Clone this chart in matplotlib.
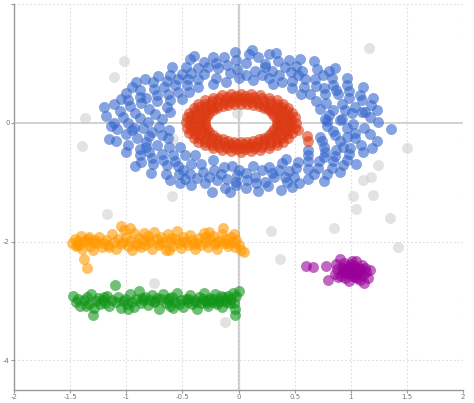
import numpy as np
import matplotlib.pyplot as plt

# outer ring
blue_pts = [
    (0.79, 0.03), (1.02, -0.02), (1.24, 0.01), (0.90, 0.05),
    (0.92, 0.07), (1.17, 0.10), (0.77, 0.06),
    (1.01, 0.17), (1.23, 0.21), (0.81, 0.13), (1.10, 0.18),
    (0.84, 0.21), (1.04, 0.26), (1.18, 0.30),
    (0.92, 0.31), (1.10, 0.38), (0.73, 0.24), (1.20, 0.41),
    (0.78, 0.33), (0.98, 0.42), (1.08, 0.47),
    (0.89, 0.48), (1.11, 0.60), (0.69, 0.36), (0.98, 0.53),
    (0.77, 0.49), (0.97, 0.63), (0.87, 0.56),
    (0.64, 0.48), (0.84, 0.64), (0.97, 0.76), (0.76, 0.58),
    (0.69, 0.62), (0.83, 0.76), (0.56, 0.49),
    (0.68, 0.73), (0.81, 0.88), (0.58, 0.61), (0.75, 0.80),
    (0.59, 0.74), (0.70, 0.90), (0.48, 0.59),
    (0.57, 0.87), (0.48, 0.71), (0.67, 1.04), (0.53, 0.80),
    (0.39, 0.68), (0.51, 0.95), (0.47, 0.86),
    (0.45, 1.05), (0.36, 0.80), (0.41, 0.94), (0.31, 0.66),
    (0.30, 0.87), (0.35, 1.04), (0.27, 0.75),
    (0.24, 0.99), (0.21, 0.81), (0.27, 1.16), (0.24, 0.94),
    (0.15, 0.88), (0.17, 1.10), (0.13, 0.72),
    (0.07, 1.00), (0.07, 0.80), (0.09, 1.15),
    (-0.01, 0.90), (-0.02, 1.05), (0.00, 0.75), (-0.03, 1.20),
    (-0.08, 0.84), (-0.13, 1.10), (-0.10, 0.97),
    (-0.18, 0.92), (-0.11, 0.68), (-0.23, 1.11), (-0.20, 1.01),
    (-0.20, 0.75), (-0.27, 0.94), (-0.31, 1.03),
    (-0.31, 0.82), (-0.43, 1.07), (-0.23, 0.65), (-0.36, 0.92),
    (-0.36, 0.74), (-0.47, 0.94), (-0.42, 0.84),
    (-0.50, 0.82), (-0.36, 0.61), (-0.59, 0.94), (-0.45, 0.74),
    (-0.46, 0.63), (-0.61, 0.80), (-0.54, 0.73),
    (-0.57, 0.64), (-0.72, 0.79), (-0.44, 0.51), (-0.64, 0.71),
    (-0.54, 0.51), (-0.76, 0.69), (-0.66, 0.61),
    (-0.75, 0.57), (-0.63, 0.49), (-0.91, 0.69), (-0.50, 0.40),
    (-0.73, 0.46), (-0.88, 0.55), (-0.61, 0.39),
    (-0.88, 0.44), (-0.73, 0.37), (-1.00, 0.50), (-0.82, 0.41),
    (-0.64, 0.26), (-0.87, 0.34), (-0.98, 0.38),
    (-0.80, 0.23), (-0.97, 0.28), (-0.61, 0.18), (-1.11, 0.32),
    (-0.74, 0.14), (-0.92, 0.17), (-1.06, 0.20),
    (-0.88, 0.08), (-1.03, 0.10), (-0.68, 0.07), (-1.18, 0.11),
    (-0.81, 0.02), (-0.98, -0.01), (-1.11, 0.00),
    (-0.71, -0.07), (-0.93, -0.09), (-1.08, -0.10), (-0.85, -0.08),
    (-0.77, -0.15), (-1.00, -0.19), (-0.62, -0.12),
    (-0.90, -0.26), (-0.80, -0.23), (-1.09, -0.31), (-0.68, -0.20),
    (-0.82, -0.32), (-0.98, -0.38), (-0.63, -0.25),
    (-0.73, -0.37), (-0.88, -0.44), (-1.00, -0.50), (-0.82, -0.41),
    (-0.62, -0.40), (-0.80, -0.50), (-0.88, -0.55),
    (-0.68, -0.53), (-0.52, -0.41), (-0.87, -0.66), (-0.77, -0.59),
    (-0.58, -0.55), (-0.76, -0.69), (-0.67, -0.62),
    (-0.48, -0.55), (-0.64, -0.71), (-0.78, -0.85), (-0.57, -0.64),
    (-0.54, -0.73), (-0.65, -0.86), (-0.39, -0.55),
    (-0.42, -0.70), (-0.53, -0.86), (-0.61, -0.97), (-0.49, -0.80),
    (-0.33, -0.69), (-0.43, -0.87), (-0.48, -0.95),
    (-0.32, -0.83), (-0.23, -0.63), (-0.42, -1.04), (-0.37, -0.93),
    (-0.22, -0.80), (-0.30, -1.02), (-0.26, -0.91),
    (-0.13, -0.75), (-0.19, -0.97), (-0.24, -1.16), (-0.16, -0.87),
    (-0.10, -0.94), (-0.12, -1.10), (-0.06, -0.73),
    (-0.01, -0.88), (-0.02, -1.05), (-0.02, -0.99), (0.00, -0.80),
    (0.07, -0.85), (0.07, -1.10), (0.08, -0.96),
    (0.15, -0.92), (0.13, -0.72), (0.17, -1.15), (0.16, -1.02),
    (0.21, -0.79), (0.24, -0.99), (0.26, -1.06),
    (0.32, -0.92), (0.27, -0.75), (0.38, -1.14), (0.30, -0.85),
    (0.36, -0.80), (0.43, -0.99), (0.41, -0.92),
    (0.39, -0.68), (0.49, -0.91), (0.54, -1.01), (0.45, -0.82),
    (0.51, -0.76), (0.62, -0.95), (0.42, -0.61),
    (0.62, -0.78), (0.67, -0.86), (0.53, -0.66), (0.76, -0.98),
    (0.62, -0.65), (0.71, -0.77), (0.79, -0.86),
    (0.62, -0.55), (0.72, -0.65), (0.83, -0.76), (0.90, -0.83),
    (0.62, -0.46), (0.84, -0.64), (0.76, -0.58),
    (0.77, -0.49), (0.97, -0.63), (0.86, -0.56), (1.05, -0.69),
    (0.76, -0.40), (0.98, -0.53), (0.87, -0.46),
    (0.93, -0.40), (1.11, -0.49), (0.74, -0.31), (0.99, -0.43),
    (0.90, -0.30), (1.09, -0.37), (0.73, -0.24),
    (1.04, -0.26), (0.86, -0.21), (1.23, -0.31), (0.97, -0.24),
    (0.84, -0.14), (1.17, -0.19), (1.04, -0.17),
    (0.97, -0.08), (1.12, -0.09), (0.79, -0.06), (1.36, -0.11),
    (-1.20, 0.27), (-1.14, -0.05), (-0.95, 0.60), (-0.83, 0.73),
    (0.12, 1.22), (0.55, 1.08), (0.86, 0.93), (1.13, 0.18),
    (1.19, -0.43), (0.93, -0.71), (0.48, -1.08), (-0.08, -1.17),
    (-0.52, -1.02), (-0.92, -0.72), (-1.15, -0.27), (-1.05, 0.40),
    (-0.40, 1.13), (0.33, 1.18), (0.95, 0.22), (-0.95, -0.12),
]

# inner ring
red_pts = [
    (0.34, 0.00), (0.44, 0.01), (0.51, -0.01), (0.38, 0.03), (0.47, 0.04),
    (0.34, 0.06), (0.43, 0.07), (0.50, 0.09), (0.37, 0.09), (0.45, 0.12),
    (0.32, 0.11), (0.41, 0.14), (0.48, 0.17), (0.35, 0.15), (0.43, 0.19),
    (0.30, 0.16), (0.38, 0.21), (0.44, 0.25), (0.32, 0.21), (0.39, 0.26),
    (0.27, 0.21), (0.34, 0.27), (0.40, 0.32), (0.27, 0.25), (0.34, 0.32),
    (0.23, 0.25), (0.29, 0.32), (0.34, 0.38), (0.23, 0.29), (0.28, 0.37),
    (0.18, 0.28), (0.23, 0.36), (0.27, 0.42), (0.17, 0.33), (0.21, 0.41),
    (0.13, 0.30), (0.16, 0.39), (0.19, 0.46), (0.11, 0.35), (0.14, 0.43),
    (0.08, 0.32), (0.09, 0.41), (0.11, 0.48), (0.05, 0.36), (0.06, 0.45),
    (0.02, 0.32), (0.02, 0.42), (0.02, 0.49), (-0.01, 0.36), (-0.02, 0.45),
    (-0.04, 0.32), (-0.05, 0.41), (-0.07, 0.48), (-0.07, 0.35), (-0.10, 0.43),
    (-0.09, 0.30), (-0.12, 0.39), (-0.15, 0.46), (-0.13, 0.33), (-0.17, 0.41),
    (-0.14, 0.28), (-0.19, 0.36), (-0.23, 0.42), (-0.19, 0.29), (-0.24, 0.37),
    (-0.19, 0.25), (-0.25, 0.32), (-0.30, 0.38), (-0.24, 0.25), (-0.30, 0.32),
    (-0.23, 0.21), (-0.30, 0.27), (-0.36, 0.32), (-0.28, 0.21), (-0.35, 0.26),
    (-0.26, 0.16), (-0.34, 0.21), (-0.40, 0.25), (-0.31, 0.15), (-0.39, 0.19),
    (-0.28, 0.11), (-0.38, 0.14), (-0.44, 0.17), (-0.33, 0.09), (-0.42, 0.12),
    (-0.30, 0.06), (-0.39, 0.07), (-0.46, 0.09), (-0.34, 0.03), (-0.43, 0.04),
    (-0.30, 0.00), (-0.40, -0.01), (-0.47, 0.01), (-0.34, -0.03), (-0.43, -0.04),
    (-0.30, -0.06), (-0.39, -0.07), (-0.46, -0.09), (-0.33, -0.09), (-0.42, -0.12),
    (-0.28, -0.11), (-0.38, -0.14), (-0.44, -0.17), (-0.31, -0.15), (-0.39, -0.19),
    (-0.26, -0.16), (-0.34, -0.21), (-0.40, -0.25), (-0.28, -0.21), (-0.35, -0.26),
    (-0.23, -0.21), (-0.30, -0.27), (-0.36, -0.32), (-0.24, -0.25), (-0.30, -0.32),
    (-0.19, -0.25), (-0.25, -0.32), (-0.30, -0.38), (-0.19, -0.29), (-0.24, -0.37),
    (-0.14, -0.28), (-0.19, -0.36), (-0.23, -0.42), (-0.13, -0.33), (-0.17, -0.41),
    (-0.09, -0.30), (-0.12, -0.39), (-0.15, -0.46), (-0.07, -0.35), (-0.10, -0.43),
    (-0.04, -0.32), (-0.05, -0.41), (-0.07, -0.48), (-0.01, -0.36), (-0.02, -0.45),
    (0.02, -0.32), (0.02, -0.42), (0.02, -0.49), (0.05, -0.36), (0.06, -0.45),
    (0.08, -0.32), (0.09, -0.41), (0.11, -0.48), (0.11, -0.35), (0.14, -0.43),
    (0.13, -0.30), (0.16, -0.39), (0.19, -0.46), (0.17, -0.33), (0.21, -0.41),
    (0.18, -0.28), (0.23, -0.36), (0.27, -0.42), (0.23, -0.29), (0.28, -0.37),
    (0.23, -0.25), (0.29, -0.32), (0.34, -0.38), (0.27, -0.25), (0.34, -0.32),
    (0.27, -0.21), (0.34, -0.27), (0.40, -0.32), (0.32, -0.21), (0.39, -0.26),
    (0.30, -0.16), (0.38, -0.21), (0.44, -0.25), (0.35, -0.15), (0.43, -0.19),
    (0.32, -0.11), (0.41, -0.14), (0.48, -0.17), (0.37, -0.09), (0.45, -0.12),
    (0.34, -0.06), (0.43, -0.07), (0.50, -0.09), (0.38, -0.03), (0.47, -0.04),
    (0.53, -0.13), (0.61, -0.22), (0.62, -0.30),
]

orange_pts = [
    (-1.48, -2.02), (-1.46, -1.95), (-1.45, -2.08), (-1.43, -1.99), (-1.42, -2.05),
    (-1.40, -1.90), (-1.39, -2.12), (-1.38, -2.30), (-1.36, -2.00), (-1.35, -2.44),
    (-1.34, -1.96), (-1.32, -2.07), (-1.30, -2.15), (-1.28, -1.98), (-1.26, -2.03),
    (-1.24, -1.93), (-1.22, -2.10), (-1.20, -2.02), (-1.18, -1.97), (-1.16, -2.06),
    (-1.13, -1.88), (-1.11, -2.00), (-1.09, -2.13), (-1.07, -1.95), (-1.05, -2.04),
    (-1.02, -1.80), (-1.00, -1.92), (-0.98, -2.08), (-0.97, -1.99), (-0.95, -2.15),
    (-0.93, -1.86), (-0.91, -2.02), (-0.89, -1.94), (-0.87, -2.10), (-0.85, -1.98),
    (-0.83, -2.05), (-0.81, -1.90), (-0.79, -2.00), (-0.77, -2.12), (-0.75, -1.84),
    (-0.73, -1.96), (-0.71, -2.06), (-0.69, -1.92), (-0.67, -2.01), (-0.65, -2.14),
    (-0.63, -1.88), (-0.61, -1.99), (-0.59, -2.08), (-0.57, -1.95), (-0.55, -1.82),
    (-0.53, -2.03), (-0.51, -2.11), (-0.49, -1.93), (-0.47, -2.00), (-0.45, -2.06),
    (-0.43, -1.89), (-0.41, -1.98), (-0.39, -2.13), (-0.37, -2.02), (-0.35, -1.94),
    (-0.33, -2.05), (-0.31, -1.86), (-0.29, -2.00), (-0.27, -2.09), (-0.25, -1.96),
    (-0.23, -1.90), (-0.21, -2.04), (-0.19, -2.12), (-0.17, -1.99), (-0.15, -1.87),
    (-0.13, -2.03), (-0.11, -1.95), (-0.09, -2.08), (-0.07, -1.92), (-0.05, -2.01),
    (-0.03, -2.10), (-0.02, -1.97), (0.00, -2.05), (0.02, -2.14), (0.05, -2.18),
    (-1.44, -2.06), (-1.37, -1.97), (-1.29, -2.01), (-1.15, -2.10), (-1.03, -2.00),
    (-0.90, -2.06), (-0.80, -1.97), (-0.70, -2.02), (-0.60, -1.94), (-0.50, -1.99),
    (-0.40, -2.04), (-0.30, -1.92), (-0.20, -2.00), (-0.10, -2.02), (-0.04, -1.88),
    (-0.26, -1.84), (-0.62, -2.15), (-0.97, -1.78), (-1.33, -1.92), (-0.84, -1.86),
    (-1.05, -1.74), (-0.14, -1.77),
]

green_pts = [
    (-1.47, -2.92), (-1.45, -3.02), (-1.43, -2.97), (-1.41, -3.08), (-1.38, -2.99),
    (-1.35, -2.93), (-1.33, -3.05), (-1.31, -2.88), (-1.30, -3.24), (-1.29, -3.12),
    (-1.27, -3.00), (-1.25, -2.95), (-1.23, -3.06), (-1.21, -2.98), (-1.19, -3.03),
    (-1.17, -2.91), (-1.15, -3.09), (-1.13, -2.99), (-1.10, -2.74), (-1.09, -3.02),
    (-1.07, -2.94), (-1.05, -3.12), (-1.03, -3.00), (-1.01, -2.96), (-0.99, -3.06),
    (-0.97, -2.89), (-0.95, -3.01), (-0.93, -3.10), (-0.91, -2.97), (-0.89, -2.84),
    (-0.87, -3.04), (-0.85, -2.99), (-0.83, -2.93), (-0.81, -3.07), (-0.79, -2.98),
    (-0.77, -2.90), (-0.75, -3.02), (-0.73, -2.95), (-0.71, -3.13), (-0.69, -2.97),
    (-0.67, -2.88), (-0.65, -3.03), (-0.63, -2.99), (-0.61, -3.08), (-0.59, -2.94),
    (-0.57, -3.01), (-0.55, -2.87), (-0.53, -3.05), (-0.51, -2.98), (-0.49, -3.11),
    (-0.47, -2.96), (-0.45, -3.02), (-0.43, -2.90), (-0.41, -3.06), (-0.39, -2.99),
    (-0.37, -3.14), (-0.35, -2.93), (-0.33, -3.03), (-0.31, -2.86), (-0.29, -3.00),
    (-0.27, -3.08), (-0.25, -2.95), (-0.23, -3.02), (-0.21, -2.89), (-0.19, -3.05),
    (-0.17, -2.98), (-0.15, -3.10), (-0.13, -2.94), (-0.11, -3.01), (-0.09, -2.91),
    (-0.07, -2.97), (-0.05, -2.87), (-0.04, -3.04), (-0.03, -3.13), (-0.03, -3.24),
    (-0.02, -2.92), (0.00, -2.83),
    (-0.45, -2.97), (-0.38, -3.02), (-0.32, -2.96), (-0.28, -3.04), (-0.22, -2.97),
    (-0.18, -3.01), (-0.12, -2.99), (-0.08, -3.03), (-0.16, -2.92), (-0.26, -2.99),
    (-0.62, -2.95), (-0.74, -3.00), (-0.86, -2.95), (-1.20, -2.93), (-1.36, -3.08),
    (-0.58, -3.12), (-0.98, -3.14),
]

purple_pts = [
    (0.60, -2.42), (0.66, -2.43), (0.78, -2.42), (0.80, -2.64), (0.86, -2.55),
    (0.87, -2.38), (0.88, -2.47), (0.90, -2.30), (0.91, -2.58), (0.92, -2.44),
    (0.93, -2.52), (0.94, -2.36), (0.95, -2.62), (0.96, -2.48), (0.97, -2.41),
    (0.98, -2.55), (0.99, -2.45), (1.00, -2.50), (1.00, -2.38), (1.01, -2.58),
    (1.02, -2.47), (1.03, -2.53), (1.03, -2.42), (1.04, -2.60), (1.05, -2.49),
    (1.05, -2.32), (1.06, -2.55), (1.07, -2.44), (1.08, -2.64), (1.08, -2.51),
    (1.09, -2.47), (1.10, -2.39), (1.11, -2.56), (1.12, -2.69), (1.13, -2.45),
    (1.14, -2.52), (1.15, -2.61), (1.17, -2.48), (0.98, -2.66), (0.89, -2.60),
    (1.01, -2.33), (0.96, -2.53), (1.06, -2.62), (0.94, -2.46),
]

# noise points
gray_pts = [
    (-1.02, 1.04), (-1.11, 0.77), (-1.37, 0.08), (1.16, 1.26), (-0.01, 0.17),
    (0.01, 0.84), (-0.58, -0.27), (-0.59, -1.23), (1.50, -0.42), (1.24, -0.71),
    (1.18, -0.92), (1.11, -0.97), (1.02, -1.23), (1.20, -1.21), (1.05, -1.46),
    (1.35, -1.60), (0.85, -1.78), (1.42, -2.10), (-1.17, -1.53), (-0.75, -2.69),
    (-0.12, -3.36), (0.29, -1.83), (0.37, -2.30), (-1.39, -0.39),
]

x_ticks = [-2, -1.5, -1, -0.5, 0, 0.5, 1, 1.5, 2]
x_labels = ["-2", "-1.5", "-1", "-0.5", "0", "0.5", "1", "1.5", "2"]
y_ticks = [-4, -2, 0, 2]
y_labels = ["-4", "-2", "0", ""]

series = [
    (gray_pts, "#cccccc", 0.55),
    (blue_pts, "#3366cc", 0.6),
    (red_pts, "#dc3912", 0.6),
    (orange_pts, "#ff9900", 0.6),
    (green_pts, "#109618", 0.6),
    (purple_pts, "#990099", 0.6),
]

fig = plt.figure(figsize=(4.74, 4.03), dpi=100)
ax = fig.add_axes([14 / 474, 13 / 403, 449 / 474, 386 / 403])

for pts, color, alpha in series:
    a = np.array(pts)
    ax.scatter(a[:, 0], a[:, 1], s=62, color=color, alpha=alpha,
               linewidths=0, zorder=3)

ax.set_xlim(-2, 2)
ax.set_ylim(-4.5, 2)
ax.set_xticks(x_ticks)
ax.set_xticklabels(x_labels)
ax.set_yticks(y_ticks)
ax.set_yticklabels(y_labels)

ax.grid(True, linestyle=(0, (1.5, 2)), color="#dddddd", linewidth=0.8, zorder=0)
ax.axhline(0, color="#cccccc", linewidth=1.3, zorder=1)
ax.axvline(0, color="#cccccc", linewidth=1.6, zorder=1)

for side in ["top", "right"]:
    ax.spines[side].set_visible(False)
for side in ["left", "bottom"]:
    ax.spines[side].set_color("#999999")
    ax.spines[side].set_linewidth(1.0)

ax.tick_params(axis="both", length=2, width=0.8, color="#999999",
               labelsize=5, labelcolor="#777777", pad=1)

fig.savefig("out.png", dpi=100)
